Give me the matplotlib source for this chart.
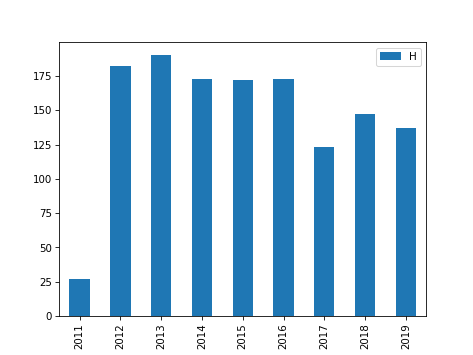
import matplotlib
matplotlib.use('Agg')
import matplotlib.pyplot as plt

#---- Data
years = ['2011', '2012', '2013', '2014', '2015', '2016', '2017', '2018', '2019']
h_values = [27, 182, 190, 173, 172, 173, 123, 147, 137]

#---- Plot data (pandas-style bar chart)
fig, ax = plt.subplots(figsize=(6.4, 4.8), dpi=74)
pos = range(len(years))
ax.bar(pos, h_values, width=0.5, color='#1f77b4', label='H')
ax.set_xticks(list(pos))
ax.set_xticklabels(years, rotation=90)
ax.set_xlim(-0.5, len(years) - 0.5)
ax.legend(loc='upper right')
fig.savefig('out.png', dpi=74)
